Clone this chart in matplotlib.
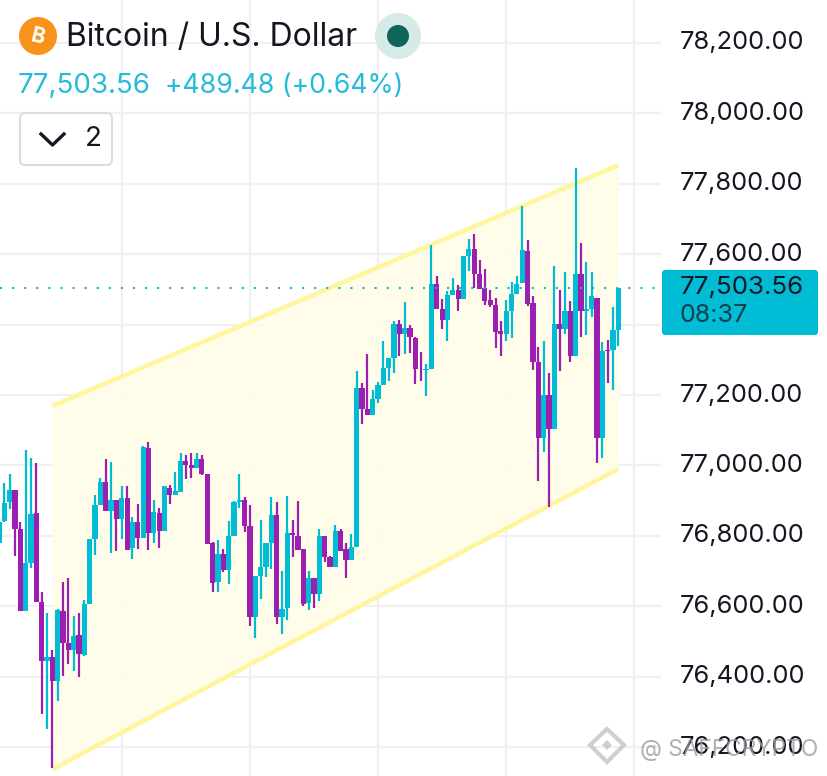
import numpy as np
import matplotlib
matplotlib.use("Agg")
import matplotlib.pyplot as plt
from matplotlib.patches import Circle, FancyBboxPatch, Polygon

plt.rcParams['font.family'] = ['Inter', 'DejaVu Sans']

CYAN = '#00bcd4'
PURPLE = '#9c1fb0'

# candle values, first candle sits just left of the frame
opens = [76780, 76842, 76896, 76931, 76819, 76588, 76724, 76866, 76611, 76444, 76455, 76389, 76586, 76495, 76476, 76519,
         76463, 76607, 76792, 76888, 76953, 76870, 76901, 76847, 76908, 76765, 76839, 76794, 77051, 76808, 76866, 76813,
         76937, 76915, 76925, 77013, 77001, 76994, 77017, 76977, 76779, 76668, 76748, 76703, 76801, 76896, 76902, 76827,
         76571, 76687, 76713, 76781, 76860, 76571, 76594, 76807, 76801, 76763, 76608, 76679, 76635, 76799, 76741, 76713,
         76813, 76764, 76731, 76769, 77221, 77161, 77142, 77190, 77228, 77278, 77306, 77401, 77374, 77389, 77362, 77275,
         77271, 77273, 77515, 77445, 77413, 77485, 77499, 77472, 77594, 77616, 77545, 77503, 77469, 77457, 77381, 77374,
         77438, 77488, 77519, 77609, 77461, 77293, 77077, 77201, 77104, 77402, 77388, 77440, 77312, 77545, 77440, 77445,
         77477, 77077, 77329, 77327, 77386]
highs = [76844, 76950, 76975, 76931, 76839, 77045, 77022, 77007, 76641, 76581, 76476, 76593, 76669, 76680, 76572, 76581,
         76617, 76792, 76917, 76965, 77017, 77009, 76901, 76942, 76942, 76855, 76890, 77054, 77067, 76901, 76879, 76941,
         76945, 76981, 77036, 77029, 77034, 77034, 77029, 76977, 76783, 76788, 76763, 76841, 76900, 76976, 76910, 76889,
         76687, 76845, 76781, 76910, 76895, 76699, 76914, 76845, 76898, 76763, 76701, 76679, 76820, 76799, 76744, 76832,
         76820, 76779, 76805, 77268, 77234, 77317, 77213, 77236, 77353, 77306, 77410, 77414, 77465, 77399, 77365, 77322,
         77289, 77625, 77539, 77474, 77495, 77533, 77513, 77595, 77642, 77657, 77583, 77557, 77497, 77476, 77409, 77469,
         77521, 77539, 77737, 77641, 77480, 77336, 77353, 77262, 77566, 77499, 77549, 77467, 77846, 77633, 77578, 77549,
         77477, 77350, 77355, 77450, 77504]
lows = [76778, 76839, 76875, 76742, 76586, 76586, 76709, 76611, 76294, 76252, 76140, 76332, 76403, 76436, 76415, 76400,
        76460, 76607, 76745, 76888, 76870, 76752, 76758, 76790, 76759, 76734, 76763, 76794, 76759, 76780, 76766, 76813,
        76890, 76915, 76925, 76961, 76964, 76994, 76974, 76778, 76640, 76642, 76696, 76663, 76801, 76879, 76810, 76545,
        76510, 76622, 76682, 76706, 76549, 76521, 76561, 76741, 76761, 76600, 76589, 76595, 76616, 76727, 76711, 76713,
        76758, 76679, 76731, 76769, 77118, 77142, 77142, 77177, 77228, 77240, 77263, 77311, 77317, 77320, 77232, 77239,
        77197, 77273, 77445, 77388, 77353, 77485, 77438, 77472, 77552, 77504, 77501, 77455, 77450, 77334, 77311, 77353,
        77362, 77488, 77519, 77453, 77270, 76957, 77038, 76881, 77104, 77268, 77372, 77293, 77312, 77365, 77371, 77423,
        77006, 77021, 77235, 77215, 77339]
closes = [76839, 76893, 76931, 76819, 76588, 76724, 76863, 76611, 76444, 76455, 76389, 76590, 76495, 76476, 76517, 76465,
          76607, 76792, 76888, 76952, 76870, 76901, 76847, 76908, 76761, 76839, 76794, 77053, 76808, 76868, 76813, 76941,
          76915, 76927, 77013, 77000, 76993, 77017, 76977, 76778, 76665, 76748, 76703, 76801, 76897, 76902, 76827, 76571,
          76687, 76713, 76781, 76860, 76571, 76592, 76807, 76803, 76761, 76606, 76679, 76635, 76801, 76741, 76713, 76813,
          76758, 76732, 76769, 77221, 77161, 77142, 77190, 77228, 77278, 77306, 77401, 77374, 77391, 77365, 77274, 77273,
          77275, 77515, 77445, 77413, 77485, 77499, 77473, 77595, 77616, 77545, 77501, 77467, 77457, 77379, 77372, 77438,
          77488, 77516, 77611, 77459, 77293, 77077, 77199, 77104, 77402, 77388, 77440, 77312, 77545, 77440, 77445, 77480,
          77077, 77324, 77325, 77384, 77503.56]

price_ticks = [76200, 76400, 76600, 76800, 77000, 77200, 77400, 77600, 77800, 78000, 78200]
time_grid_bars = [22, 46, 70, 94, 118]

channel_bars = [9, 115]
channel_upper = [77169, 77853]
channel_lower = [76137, 76990]

last_price = 77503.56

# frame limits, one bar is about 5.34 px wide
bar_px = 5.339
plot_right_px = 661
x_left = -4.33 / bar_px
x_right = (plot_right_px - 4.33) / bar_px

fig = plt.figure(figsize=(8.28, 7.76), dpi=100, facecolor='white')
ax = fig.add_axes([0, 0, plot_right_px / 828, 1])
ax.set_xlim(x_left, x_right)
ax.set_ylim(76118, 78322)
ax.set_facecolor('white')
for spine in ax.spines.values():
    spine.set_visible(False)

# the 77,400 label sits behind the price tag, so it stays empty
ax.yaxis.tick_right()
ax.set_yticks(price_ticks)
ax.set_yticklabels(["" if p == 77400 else f"{p:,.2f}" for p in price_ticks],
                   fontsize=18.3, color='#131722', va='center')
ax.set_xticks(time_grid_bars)
ax.set_xticklabels([])
ax.tick_params(length=0, axis='both', pad=13.5)
ax.grid(True, color='#f0f0f2', linewidth=1.6)
ax.set_axisbelow(True)

# channel
ax.fill_between(channel_bars, channel_lower, channel_upper, color='#fffde7', alpha=0.85, linewidth=0, zorder=1)
ax.plot(channel_bars, channel_upper, color='#fff59d', linewidth=3.2, zorder=2, solid_capstyle='butt')
ax.plot(channel_bars, channel_lower, color='#fff59d', linewidth=3.2, zorder=2, solid_capstyle='butt')

# candles
x = np.arange(len(opens)) - 1
o = np.array(opens)
h = np.array(highs)
l = np.array(lows)
c = np.array(closes)
colors = [CYAN if b >= a else PURPLE for a, b in zip(o, c)]
ax.vlines(x, l, h, colors=colors, linewidth=1.6, zorder=3)
ax.bar(x, np.abs(c - o), bottom=np.minimum(o, c), width=0.98, color=colors, linewidth=0, zorder=4)

# last price line
ax.axhline(last_price, color=CYAN, linewidth=1.5, linestyle=(0, (1, 4.8)), zorder=5)

# overlay in pixel coordinates for the header, price tag and watermark
top = fig.add_axes([0, 0, 1, 1], zorder=10)
top.set_xlim(0, 828)
top.set_ylim(776, 0)
top.axis('off')
top.patch.set_alpha(0)

top.add_patch(Circle((38, 36), 19, color='#f7931a', linewidth=0))
top.text(38, 36.5, "B", color='white', fontsize=15, fontweight='bold', ha='center', va='center', rotation=-14)
top.text(66, 38, "Bitcoin / U.S. Dollar", color='#131722', fontsize=23, ha='left', va='center')
top.add_patch(Circle((398, 36), 23, color='#d6ebe8', linewidth=0))
top.add_patch(Circle((398, 36), 11, color='#10645a', linewidth=0))

top.text(18, 86, "77,503.56", color='#26bcd8', fontsize=20, ha='left', va='center')
top.text(165, 86, "+489.48 (+0.64%)", color='#26bcd8', fontsize=19.2, ha='left', va='center')

top.add_patch(FancyBboxPatch((20, 113), 92, 52, boxstyle="round,pad=0,rounding_size=5",
                             facecolor='white', edgecolor='#dcdcdc', linewidth=1.5))
top.plot([41, 52.5, 64], [134, 145, 134], color='#131722', linewidth=2.4)
top.text(93, 139, "2", color='#131722', fontsize=20, ha='center', va='center')

top.add_patch(FancyBboxPatch((662, 270), 156, 65, boxstyle="round,pad=0,rounding_size=3",
                             facecolor='#00bcd4', edgecolor='none'))
top.text(680, 288, "77,503.56", color='#131722', fontsize=18.7, ha='left', va='center')
top.text(680, 316, "08:37", color='#0f3f4c', fontsize=18, ha='left', va='center')

# watermark
top.add_patch(Polygon([(590, 745), (607, 729), (624, 745), (607, 762)], closed=True,
                      facecolor='none', edgecolor='#c4c4c4', linewidth=3, alpha=0.8))
top.add_patch(Polygon([(602, 745), (607, 740), (612, 745), (607, 750)], closed=True,
                      facecolor='#c4c4c4', edgecolor='none', alpha=0.8))
top.text(640, 750, "@ SAFFCRYPTO", color='#9c9c9c', fontsize=16.3, alpha=0.8, ha='left', va='center')

fig.savefig("out.png", dpi=100)
